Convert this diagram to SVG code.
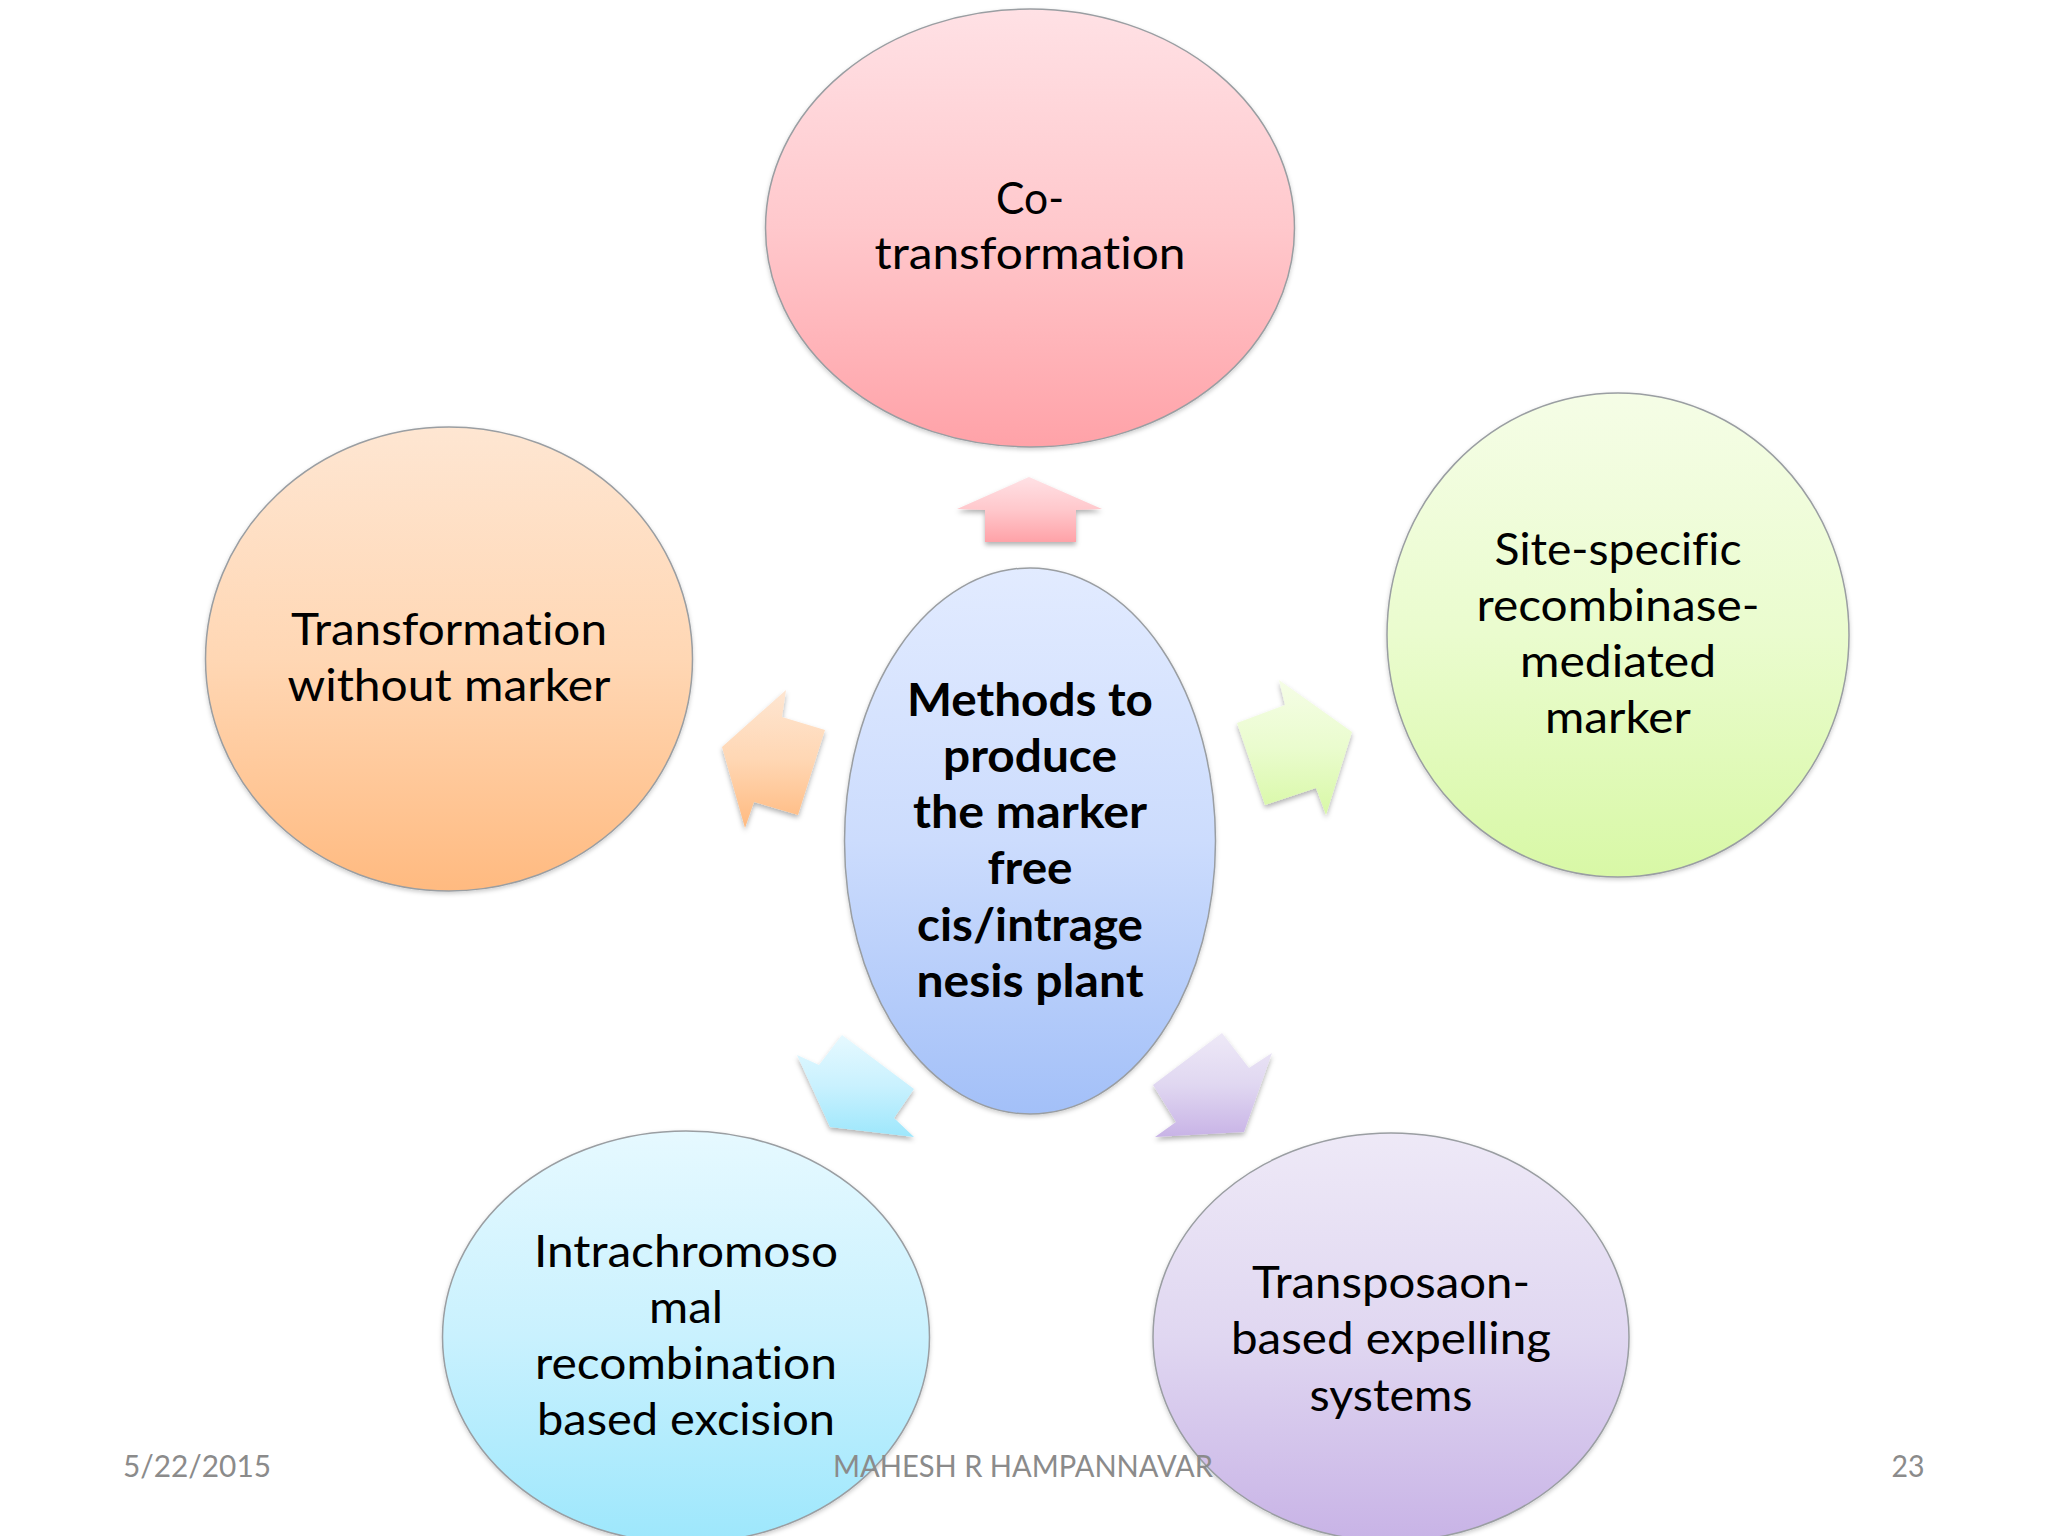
<svg xmlns="http://www.w3.org/2000/svg" width="2048" height="1536" viewBox="0 0 2048 1536">
<defs>
<linearGradient id="gTop" x1="0" y1="0" x2="0" y2="1"><stop offset="0" stop-color="#ffe1e5"/><stop offset="0.5" stop-color="#ffc8cc"/><stop offset="1" stop-color="#ffa2a8"/></linearGradient>
<linearGradient id="gRight" x1="0" y1="0" x2="0" y2="1"><stop offset="0" stop-color="#f5fde6"/><stop offset="0.5" stop-color="#eafcce"/><stop offset="1" stop-color="#d8f8a6"/></linearGradient>
<linearGradient id="gLeft" x1="0" y1="0" x2="0" y2="1"><stop offset="0" stop-color="#fee6d2"/><stop offset="0.5" stop-color="#ffd7b4"/><stop offset="1" stop-color="#ffba80"/></linearGradient>
<linearGradient id="gCenter" x1="0" y1="0" x2="0" y2="1"><stop offset="0" stop-color="#e2ebff"/><stop offset="0.5" stop-color="#ccdcfd"/><stop offset="1" stop-color="#a3c0f8"/></linearGradient>
<linearGradient id="gBL" x1="0" y1="0" x2="0" y2="1"><stop offset="0" stop-color="#e6f9ff"/><stop offset="0.5" stop-color="#c9f1fe"/><stop offset="1" stop-color="#9de7fc"/></linearGradient>
<linearGradient id="gBR" x1="0" y1="0" x2="0" y2="1"><stop offset="0" stop-color="#eee9f7"/><stop offset="0.5" stop-color="#e0d7f1"/><stop offset="1" stop-color="#c8b3e6"/></linearGradient>
<filter id="sh" x="-15%" y="-15%" width="130%" height="130%"><feDropShadow dx="0" dy="3" stdDeviation="2.5" flood-color="#000" flood-opacity="0.3"/></filter>
<filter id="shE" x="-5%" y="-5%" width="110%" height="110%"><feDropShadow dx="0" dy="2" stdDeviation="2" flood-color="#000" flood-opacity="0.2"/></filter>
</defs>
<style>
.n{stroke:#9a9ea2;stroke-width:1.500;filter:url(#shE)}
.a{filter:url(#sh)}
text{font-family:"Lato","Noto Sans","Liberation Sans",sans-serif;text-anchor:middle;fill:#000;font-variant-ligatures:none}
.t{font-size:45px}
.b{font-size:45px;font-weight:700}
.f{font-size:31px;fill:#8b8b8b}
</style>
<rect width="2048" height="1536" fill="#ffffff"/>
<g id="connectors">
<polygon class="a" fill="url(#gTop)" points="1029,477 1102,509 1076,510 1076,542 985,542 985,510 957,509"/>
<polygon class="a" fill="url(#gRight)" points="1279,680 1352,732 1326,815 1316,788 1265,805 1237,723 1285,705"/>
<polygon class="a" fill="url(#gBR)" points="1222,1033 1249,1068 1272,1053 1244,1132 1155,1137 1176,1122 1153,1085"/>
<polygon class="a" fill="url(#gBL)" points="842,1035 914,1089 894,1118 914,1137 830,1127 797,1055 819,1065"/>
<polygon class="a" fill="url(#gLeft)" points="786,690 782,717 825,730 798,815 754,802 745,828 722,747"/>
</g>
<g id="node-center">
<ellipse class="n" fill="url(#gCenter)" cx="1030" cy="841" rx="185.500" ry="273"/>
<text class="b" x="1030" y="716" textLength="246" lengthAdjust="spacingAndGlyphs">Methods to</text>
<text class="b" x="1030" y="772" textLength="174" lengthAdjust="spacingAndGlyphs">produce</text>
<text class="b" x="1030" y="828" textLength="234" lengthAdjust="spacingAndGlyphs">the marker</text>
<text class="b" x="1030" y="884" textLength="85" lengthAdjust="spacingAndGlyphs">free</text>
<text class="b" x="1030" y="941" textLength="226" lengthAdjust="spacingAndGlyphs">cis/intrage</text>
<text class="b" x="1030" y="997" textLength="227" lengthAdjust="spacingAndGlyphs">nesis plant</text>
</g>
<g id="node-top">
<ellipse class="n" fill="url(#gTop)" cx="1030" cy="228" rx="264.500" ry="219"/>
<text class="t" x="1030" y="214" textLength="68" lengthAdjust="spacingAndGlyphs">Co-</text>
<text class="t" x="1030" y="269" textLength="311" lengthAdjust="spacingAndGlyphs">transformation</text>
</g>
<g id="node-right">
<ellipse class="n" fill="url(#gRight)" cx="1618" cy="635" rx="231" ry="242"/>
<text class="t" x="1618" y="565" textLength="247" lengthAdjust="spacingAndGlyphs">Site-specific</text>
<text class="t" x="1618" y="621" textLength="283" lengthAdjust="spacingAndGlyphs">recombinase-</text>
<text class="t" x="1618" y="677" textLength="196" lengthAdjust="spacingAndGlyphs">mediated</text>
<text class="t" x="1618" y="733" textLength="146" lengthAdjust="spacingAndGlyphs">marker</text>
</g>
<g id="node-left">
<ellipse class="n" fill="url(#gLeft)" cx="449" cy="659" rx="243.500" ry="232"/>
<text class="t" x="449" y="645" textLength="316" lengthAdjust="spacingAndGlyphs">Transformation</text>
<text class="t" x="449" y="701" textLength="323" lengthAdjust="spacingAndGlyphs">without marker</text>
</g>
<g id="node-bottom-left">
<ellipse class="n" fill="url(#gBL)" cx="686" cy="1337" rx="243.500" ry="206"/>
<text class="t" x="686" y="1267" textLength="304" lengthAdjust="spacingAndGlyphs">Intrachromoso</text>
<text class="t" x="686" y="1323" textLength="74" lengthAdjust="spacingAndGlyphs">mal</text>
<text class="t" x="686" y="1379" textLength="302" lengthAdjust="spacingAndGlyphs">recombination</text>
<text class="t" x="686" y="1435" textLength="298" lengthAdjust="spacingAndGlyphs">based excision</text>
</g>
<g id="node-bottom-right">
<ellipse class="n" fill="url(#gBR)" cx="1391" cy="1337" rx="238" ry="204"/>
<text class="t" x="1391" y="1298" textLength="278" lengthAdjust="spacingAndGlyphs">Transposaon-</text>
<text class="t" x="1391" y="1354" textLength="320" lengthAdjust="spacingAndGlyphs">based expelling</text>
<text class="t" x="1391" y="1411" textLength="163" lengthAdjust="spacingAndGlyphs">systems</text>
</g>
<g id="footer">
<text class="f" x="197" y="1477" textLength="148" lengthAdjust="spacingAndGlyphs">5/22/2015</text>
<text class="f" x="1023" y="1477" textLength="380" lengthAdjust="spacingAndGlyphs">MAHESH R HAMPANNAVAR</text>
<text class="f" x="1908" y="1477" textLength="33" lengthAdjust="spacingAndGlyphs">23</text>
</g>
</svg>
